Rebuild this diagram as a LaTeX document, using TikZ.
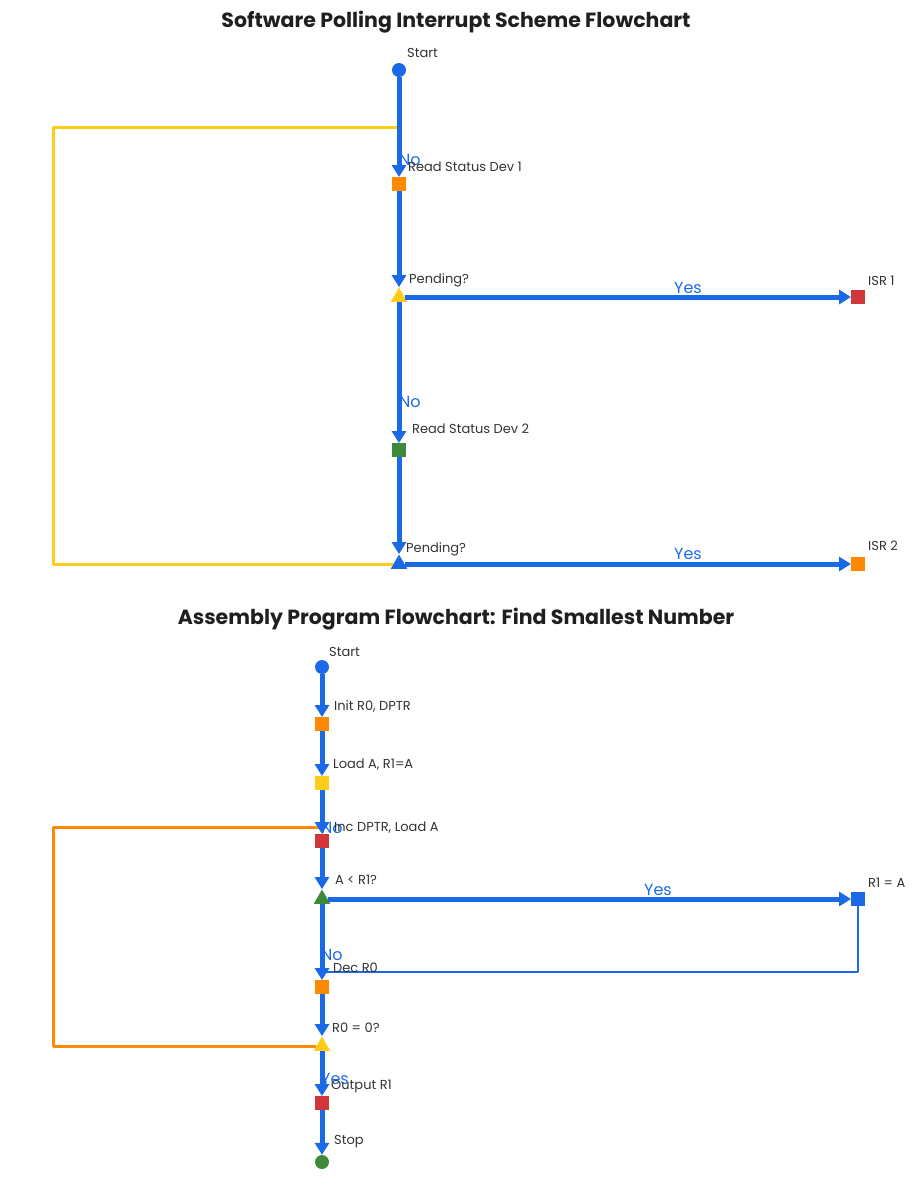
\documentclass[tikz,border=0pt]{standalone}
\usepackage{fontspec}
\setmainfont{Poppins}
\usetikzlibrary{arrows.meta,shapes.geometric}
\definecolor{fblue}{HTML}{1A6AE8}
\definecolor{forange}{HTML}{FF8A00}
\definecolor{fyellow}{HTML}{FFCC1A}
\definecolor{fred}{HTML}{D0363A}
\definecolor{fgreen}{HTML}{3F8A3A}
\definecolor{ftext}{HTML}{333333}
\begin{document}
\begin{tikzpicture}[x=1pt,y=-1pt,line join=round,>={Triangle[width=14pt,length=12pt]},
	flow/.style={draw=fblue,line width=5pt,->},
	sq/.style={rectangle,minimum size=13.5pt,inner sep=0pt},
	dot/.style={circle,minimum size=14pt,inner sep=0pt},
	tri/.style={regular polygon,regular polygon sides=3,minimum size=19pt,inner sep=0pt},
	txt/.style={anchor=west,inner sep=0pt,text=ftext,font=\fontsize{13}{15}\selectfont},
	lab/.style={anchor=west,inner sep=0pt,text=fblue,font=\fontsize{16}{18}\selectfont},
	ttl/.style={inner sep=0pt,text=black!88,font=\fontsize{20.5}{24}\selectfont\bfseries}]
	\useasboundingbox (0,0) rectangle (923,1200);
	% Polling
	\node[ttl] (t1) at (456,22) {Software Polling Interrupt Scheme Flowchart};
	\node[dot,fill=fblue] (start) at (399,70) {};
	\node[sq,fill=forange] (rd1) at (399,184) {};
	\node[tri,fill=fyellow] (pend1) at (399,297) {};
	\node[sq,fill=fred] (isr1) at (858,297) {};
	\node[sq,fill=fgreen] (rd2) at (399,450) {};
	\node[tri,fill=fblue] (pend2) at (399,564) {};
	\node[sq,fill=forange] (isr2) at (858,564) {};
	\coordinate (ya) at (53,564);
	\coordinate (yb) at (53,127);
	\coordinate (yc) at (399,127);
	\draw[fyellow,line width=3pt] (pend2) -- (ya) -- (yb) -- (yc);
	\draw[flow] (start) -- (rd1);
	\draw[flow] (rd1) -- (pend1);
	\draw[flow] (pend1) -- (isr1);
	\draw[flow] (pend1) -- (rd2);
	\draw[flow] (rd2) -- (pend2);
	\draw[flow] (pend2) -- (isr2);
	\node[lab] (no1) at (399,160) {No};
	\node[lab] (no2) at (399,402) {No};
	\node[lab,anchor=center] (yes1) at (688,288) {Yes};
	\node[lab,anchor=center] (yes2) at (688,554) {Yes};
	\node[txt] (l1) at (407,53) {Start};
	\node[txt] (l2) at (408,167) {Read Status Dev 1};
	\node[txt] (l3) at (409,280) {Pending?};
	\node[txt] (l4) at (868,281) {ISR 1};
	\node[txt] (l5) at (412,429) {Read Status Dev 2};
	\node[txt] (l6) at (406,549) {Pending?};
	\node[txt] (l7) at (868,546) {ISR 2};
	% Smallest number
	\node[ttl] (t2) at (456,619) {Assembly Program Flowchart: Find Smallest Number};
	\node[dot,fill=fblue] (bstart) at (322,667) {};
	\node[sq,fill=forange] (init) at (322,724) {};
	\node[sq,fill=fyellow] (load) at (322,783) {};
	\node[sq,fill=fred] (inc) at (322,841) {};
	\node[tri,fill=fgreen] (cmp) at (322,899) {};
	\node[sq,fill=fblue] (setr) at (858,899) {};
	\node[sq,fill=forange] (dec) at (322,987) {};
	\node[tri,fill=fyellow] (zero) at (322,1046) {};
	\node[sq,fill=fred] (out) at (322,1103) {};
	\node[dot,fill=fgreen] (stop) at (322,1162) {};
	\coordinate (oa) at (53,1046);
	\coordinate (ob) at (53,827);
	\coordinate (oc) at (322,827);
	\coordinate (ba) at (858,972);
	\coordinate (bb) at (322,972);
	\draw[forange,line width=3pt] (zero) -- (oa) -- (ob) -- (oc);
	\draw[fblue,line width=2.5pt] (setr) -- (ba) -- (bb);
	\draw[flow] (bstart) -- (init);
	\draw[flow] (init) -- (load);
	\draw[flow] (load) -- (inc);
	\draw[flow] (inc) -- (cmp);
	\draw[flow] (cmp) -- (setr);
	\draw[flow] (cmp) -- (dec);
	\draw[flow] (dec) -- (zero);
	\draw[flow] (zero) -- (out);
	\draw[flow] (out) -- (stop);
	\node[lab] (no3) at (321,828) {No};
	\node[lab] (no4) at (321,955) {No};
	\node[lab] (yes3) at (321,1079) {Yes};
	\node[lab,anchor=center] (yes4) at (658,890) {Yes};
	\node[txt] (m1) at (329,652) {Start};
	\node[txt] (m2) at (334,706) {Init R0, DPTR};
	\node[txt] (m3) at (333,765) {Load A, R1=A};
	\node[txt] (m4) at (334,828) {Inc DPTR, Load A};
	\node[txt] (m5) at (335,880) {A < R1?};
	\node[txt] (m6) at (868,883) {R1 = A};
	\node[txt] (m7) at (333,968) {Dec R0};
	\node[txt] (m8) at (332,1028) {R0 = 0?};
	\node[txt] (m9) at (331,1086) {Output R1};
	\node[txt] (m10) at (334,1142) {Stop};
\end{tikzpicture}
\end{document}
